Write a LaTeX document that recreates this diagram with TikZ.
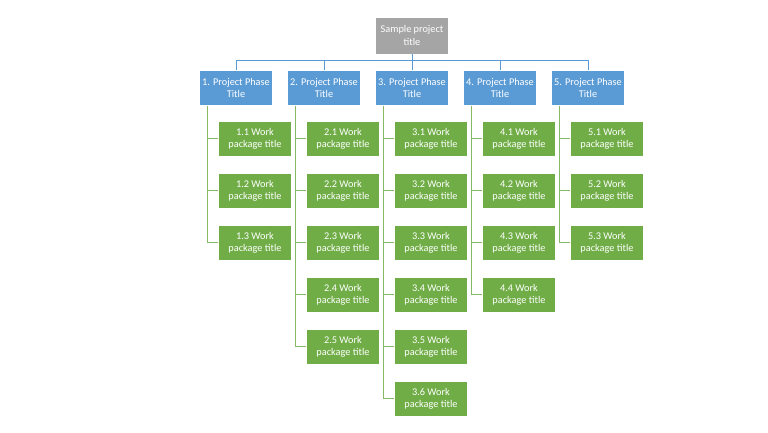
\documentclass[tikz,border=0pt]{standalone}
\usepackage{fontspec}
\setmainfont{Carlito}
\usepackage{xcolor}
\usepackage{tikz}
\usetikzlibrary{calc,positioning}

\definecolor{topgrey}{HTML}{A5A5A5}
\definecolor{phaseblue}{HTML}{5B9BD5}
\definecolor{wpgreen}{HTML}{70AD47}

\tikzset{
  box/.style={minimum width=73pt, minimum height=35pt, inner sep=0pt, align=center,
    text=white, draw=white, line width=0.6pt, font=\fontsize{10.3}{12.2}\selectfont},
  titlebox/.style={box, fill=topgrey, minimum height=37pt},
  phasebox/.style={box, fill=phaseblue},
  wpbox/.style={box, fill=wpgreen},
  bluelink/.style={draw=phaseblue, line width=1pt},
  greenlink/.style={draw=wpgreen!85, line width=1pt}
}

\begin{document}
\begin{tikzpicture}[x=1pt, y=-1pt]
\useasboundingbox (0,0) rectangle (768,433);

%Project
\node[titlebox] (top) at (412,35.5) {Sample project\\title};
\coordinate (bus) at (412,61);

%Phases
\node[phasebox] (p1) at (236,88) {1. Project Phase\\Title};
\node[phasebox] (p2) at (324,88) {2. Project Phase\\Title};
\node[phasebox] (p3) at (412,88) {3. Project Phase\\Title};
\node[phasebox] (p4) at (500,88) {4. Project Phase\\Title};
\node[phasebox] (p5) at (588,88) {5. Project Phase\\Title};

%Work packages
\node[wpbox] (w11) at (255,138.5) {1.1 Work\\package title};
\node[wpbox] (w12) at (255,190.5) {1.2 Work\\package title};
\node[wpbox] (w13) at (255,242.5) {1.3 Work\\package title};

\node[wpbox] (w21) at (343,138.5) {2.1 Work\\package title};
\node[wpbox] (w22) at (343,190.5) {2.2 Work\\package title};
\node[wpbox] (w23) at (343,242.5) {2.3 Work\\package title};
\node[wpbox] (w24) at (343,294.5) {2.4 Work\\package title};
\node[wpbox] (w25) at (343,346.5) {2.5 Work\\package title};

\node[wpbox] (w31) at (431,138.5) {3.1 Work\\package title};
\node[wpbox] (w32) at (431,190.5) {3.2 Work\\package title};
\node[wpbox] (w33) at (431,242.5) {3.3 Work\\package title};
\node[wpbox] (w34) at (431,294.5) {3.4 Work\\package title};
\node[wpbox] (w35) at (431,346.5) {3.5 Work\\package title};
\node[wpbox] (w36) at (431,398.5) {3.6 Work\\package title};

\node[wpbox] (w41) at (519,138.5) {4.1 Work\\package title};
\node[wpbox] (w42) at (519,190.5) {4.2 Work\\package title};
\node[wpbox] (w43) at (519,242.5) {4.3 Work\\package title};
\node[wpbox] (w44) at (519,294.5) {4.4 Work\\package title};

\node[wpbox] (w51) at (607,138.5) {5.1 Work\\package title};
\node[wpbox] (w52) at (607,190.5) {5.2 Work\\package title};
\node[wpbox] (w53) at (607,242.5) {5.3 Work\\package title};

%Project to phases
\draw[bluelink] (top.south) -- (bus);
\draw[bluelink] (bus) -| (p1.north);
\draw[bluelink] (bus) -| (p2.north);
\draw[bluelink] (bus) -- (p3.north);
\draw[bluelink] (bus) -| (p4.north);
\draw[bluelink] (bus) -| (p5.north);

%Phases to work packages
\draw[greenlink] ([xshift=8pt]p1.south west) |- (w11.west);
\draw[greenlink] ([xshift=8pt]p1.south west) |- (w12.west);
\draw[greenlink] ([xshift=8pt]p1.south west) |- (w13.west);

\draw[greenlink] ([xshift=8pt]p2.south west) |- (w21.west);
\draw[greenlink] ([xshift=8pt]p2.south west) |- (w22.west);
\draw[greenlink] ([xshift=8pt]p2.south west) |- (w23.west);
\draw[greenlink] ([xshift=8pt]p2.south west) |- (w24.west);
\draw[greenlink] ([xshift=8pt]p2.south west) |- (w25.west);

\draw[greenlink] ([xshift=8pt]p3.south west) |- (w31.west);
\draw[greenlink] ([xshift=8pt]p3.south west) |- (w32.west);
\draw[greenlink] ([xshift=8pt]p3.south west) |- (w33.west);
\draw[greenlink] ([xshift=8pt]p3.south west) |- (w34.west);
\draw[greenlink] ([xshift=8pt]p3.south west) |- (w35.west);
\draw[greenlink] ([xshift=8pt]p3.south west) |- (w36.west);

\draw[greenlink] ([xshift=8pt]p4.south west) |- (w41.west);
\draw[greenlink] ([xshift=8pt]p4.south west) |- (w42.west);
\draw[greenlink] ([xshift=8pt]p4.south west) |- (w43.west);
\draw[greenlink] ([xshift=8pt]p4.south west) |- (w44.west);

\draw[greenlink] ([xshift=8pt]p5.south west) |- (w51.west);
\draw[greenlink] ([xshift=8pt]p5.south west) |- (w52.west);
\draw[greenlink] ([xshift=8pt]p5.south west) |- (w53.west);

\end{tikzpicture}
\end{document}
